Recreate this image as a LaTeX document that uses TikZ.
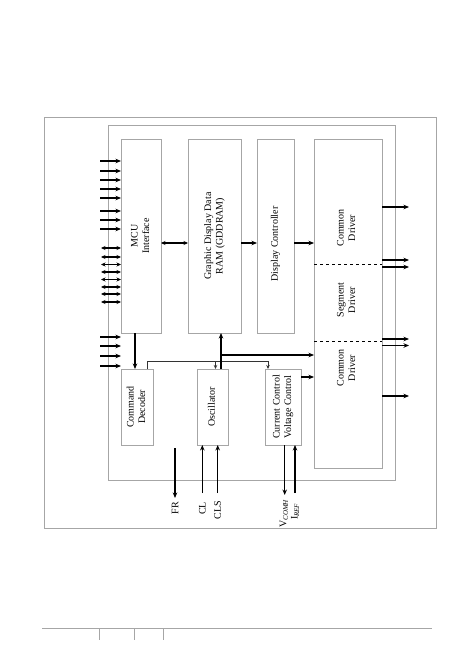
\documentclass[tikz,border=0pt]{standalone}
\usepackage{fontspec}
\setmainfont{Liberation Serif}
\usetikzlibrary{arrows.meta}
\newcommand{\vtext}[1]{\rotatebox{90}{\begin{tabular}{@{}c@{}}#1\end{tabular}}}

\begin{document}
\begin{tikzpicture}[x=1pt, y=-1pt,
  every node/.style={font=\fontsize{10}{11.5}\selectfont},
  blockbox/.style={rectangle, draw=gray!70, line width=0.9pt, inner sep=0pt, outer sep=0pt},
  frame/.style={draw=gray!70, line width=0.9pt},
  sig/.style={draw=black, line width=1.2pt, -{Stealth[length=5.5pt,width=4.5pt]}},
  bisig/.style={draw=black, line width=1.2pt, {Stealth[length=4.5pt,width=4pt]}-{Stealth[length=4.5pt,width=4pt]}},
  bus/.style={draw=black!80, line width=0.7pt, -{Stealth[length=4pt,width=3.5pt]}},
  pin/.style={rotate=90, anchor=east, inner sep=1pt}]
  \useasboundingbox (0,0) rectangle (474,671);

  % frames
  \draw[frame] (44,117) rectangle (436,528);
  \draw[frame] (108,125) rectangle (395,480);

  % blocks
  \node[blockbox, minimum width=40, minimum height=194] (mcu) at (141,236) {\vtext{MCU\\Interface}};
  \node[blockbox, minimum width=53, minimum height=194] (ram) at (214.5,236) {\vtext{Graphic Display Data\\RAM (GDDRAM)}};
  \node[blockbox, minimum width=37, minimum height=194] (ctrl) at (275.5,236) {};
  \node (ctrltext) at (275.5,244) {\vtext{Display Controller}};
  \node[blockbox, minimum width=68, minimum height=329] (drv) at (348,303.5) {};
  \node (drvtop) at (347,228) {\vtext{Common\\Driver}};
  \node (drvseg) at (347,300) {\vtext{Segment\\Driver}};
  \node (drvbot) at (347,368) {\vtext{Common\\Driver}};
  \draw[dashed, line width=0.9pt] (drv.west |- 0,264) -- (drv.east |- 0,264);
  \draw[dashed, line width=0.9pt] (drv.west |- 0,341.5) -- (drv.east |- 0,341.5);

  \node[blockbox, minimum width=32, minimum height=76] (dec) at (137,407) {\vtext{Command\\Decoder}};
  \node[blockbox, minimum width=31, minimum height=76] (osc) at (212.5,407) {\vtext{Oscillator}};
  \node[blockbox, minimum width=36, minimum height=76] (cur) at (283,407) {\vtext{Current Control\\Voltage Control}};

  % MCU pins
  \foreach \y [count=\i] in {161,171,180,189,198,211,220,229} {
    \coordinate (in\i) at (100,\y);
    \draw[sig] (in\i) -- (in\i -| mcu.west);
  }
  \foreach \y [count=\i] in {248,257,264.5,272,279.5,287,294,302} {
    \coordinate (io\i) at (101,\y);
    \draw[bisig] (io\i) -- (io\i -| mcu.west);
  }
  \foreach \y [count=\i] in {337,346,356,366} {
    \coordinate (cs\i) at (100,\y);
    \draw[sig] (cs\i) -- (cs\i -| dec.west);
  }

  % data path
  \draw[bisig] ([yshift=-7pt]mcu.east) -- ([yshift=-7pt]ram.west);
  \draw[sig] ([yshift=-7pt]ram.east) -- ([yshift=-7pt]ctrl.west);
  \draw[sig] ([yshift=-7pt]ctrl.east) -- ([yshift=-7pt]ctrl.east -| drv.west);
  \draw[sig] ([xshift=-6pt]mcu.south) -- ([xshift=-6pt]mcu.south |- dec.north);

  % command bus
  \draw[bus] ([xshift=10pt]dec.north) -- ++(0,-8) -| ([xshift=-15pt]cur.north);
  \draw[bus] ([xshift=3pt]osc.north |- 0,361) -- ([xshift=3pt]osc.north);

  % clock
  \coordinate (tap) at ([xshift=8.5pt]osc.north |- 0,355);
  \draw[sig] ([xshift=8.5pt]osc.north) -- ([xshift=8.5pt]osc.north |- ram.south);
  \draw[sig] (tap) -- (tap -| drv.west);
  \draw[sig] ([yshift=30pt]cur.east) -- ([yshift=30pt]cur.east -| drv.west);

  % driver outputs
  \foreach \y [count=\i] in {207,260,267,339,345.5,396} {
    \coordinate (out\i) at (drv.east |- 0,\y);
    \draw[sig] (out\i) -- ++(27,0);
  }

  % bottom pins
  \node[pin] (fr) at (175,501) {FR};
  \node[pin] (cl) at (202.3,501) {CL};
  \node[pin] (cls) at (217.7,500) {CLS};
  \node[pin] (vcomh) at (284,498) {V\textsubscript{\textit{COMH}}};
  \node[pin] (iref) at (295,502) {I\textsubscript{\textit{REF}}};
  \coordinate (frtop) at (175,448);
  \draw[sig] (frtop) -- ([yshift=3pt]fr.east);
  \draw[sig] ([yshift=8pt]cl.east) -- (cl.east |- osc.south);
  \draw[sig] ([yshift=7pt]cls.east) -- (cls.east |- osc.south);
  \draw[sig] ([xshift=1.7pt]cur.south) -- ([xshift=1.7pt]cur.south |- 0,495);
  \draw[sig] ([xshift=12pt]cur.south |- 0,493) -- ([xshift=12pt]cur.south);

  % footer
  \draw[frame] (42,628) -- (432,628);
  \foreach \x in {99.7,134.3,163} \draw[frame] (\x,628) -- (\x,640);
\end{tikzpicture}
\end{document}
